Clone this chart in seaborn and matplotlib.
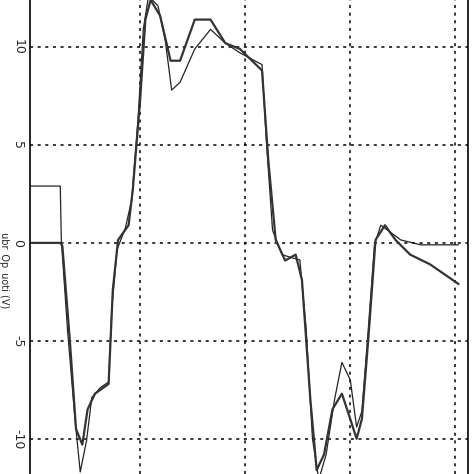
import matplotlib
matplotlib.use("Agg")
import matplotlib.pyplot as plt
import seaborn as sns

sns.set_style("white")

tA = [-0.05,0.24,0.25,0.31,0.38,0.43,0.49,0.54,0.62,0.70,0.73,0.78,0.86,0.92,0.98,1.03,1.08,1.17,1.24,1.30,1.38,1.52,1.67,1.81,1.95,2.16,2.20,2.26,2.35,2.45,2.52,2.58,2.64,2.70,2.77,2.85,2.92,3.00,3.06,3.11,3.17,3.23,3.29,3.38,3.48,3.67,3.86,4.03]
vA = [2.9,2.9,0.15,-4.5,-9.0,-11.7,-10.1,-7.9,-7.4,-7.1,-3.4,-0.35,0.77,2.2,6.3,10.9,12.6,12.1,10.3,7.8,8.2,9.9,10.9,10.2,9.7,9.1,5.3,0.65,-0.6,-0.77,-0.87,-4.4,-10.0,-12.1,-10.8,-8.0,-6.1,-7.0,-9.4,-8.6,-4.5,-0.1,0.9,0.55,0.15,-0.1,-0.1,-0.1]
tB = [-0.05,0.24,0.26,0.33,0.39,0.45,0.50,0.57,0.70,0.74,0.79,0.89,0.93,1.0,1.05,1.10,1.19,1.29,1.38,1.52,1.67,1.81,1.95,2.16,2.22,2.29,2.38,2.48,2.54,2.62,2.68,2.75,2.83,2.92,3.00,3.06,3.11,3.17,3.24,3.33,3.43,3.57,3.76,4.03]
vB = [0,0,-0.15,-4.9,-9.5,-10.3,-8.5,-7.7,-7.2,-2.4,0.15,0.9,2.7,7.3,11.4,12.4,11.6,9.3,9.3,11.4,11.4,10.2,9.9,8.8,4.2,0.15,-0.9,-0.6,-1.9,-8.0,-11.6,-10.8,-8.5,-7.7,-9.0,-10.0,-9.0,-5.0,0.15,0.9,0.15,-0.6,-1.1,-2.1]
yticks = [-10, -5, 0, 5, 10]
ytick_labels = ["-10", "-5", "0", "5", "10"]

fig = plt.figure(figsize=(4.74, 4.74), dpi=100)
ax = fig.add_axes([30/474, 0, 438/474, 1])
sns.lineplot(x=tA, y=vA, ax=ax, color="#222222", lw=0.9, sort=False, estimator=None)
sns.lineplot(x=tB, y=vB, ax=ax, color="#333333", lw=1.6, sort=False, estimator=None)
ax.set_xlim(-0.048, 4.12)
ax.set_ylim(-11.8, 12.4)
ax.set_xticks([1, 2, 3, 4])
ax.set_xticklabels([])
ax.tick_params(axis="x", length=0)
ax.set_yticks(yticks)
ax.set_yticklabels(ytick_labels, rotation=-90, va="center", fontsize=9)
ax.tick_params(axis="y", direction="in", length=4, pad=4)
ax.grid(True, color="black", linestyle=(0, (2, 3)), linewidth=1.1)
for s in ["top", "bottom"]:
    ax.spines[s].set_visible(False)
for s in ["left", "right"]:
    ax.spines[s].set_color("black")
    ax.spines[s].set_linewidth(1.2)
fig.text(4/474, 0.43, "ubr_Op_uoti (V)", rotation=-90, va="center", ha="center", fontsize=7)
fig.savefig("out.png", dpi=100)
